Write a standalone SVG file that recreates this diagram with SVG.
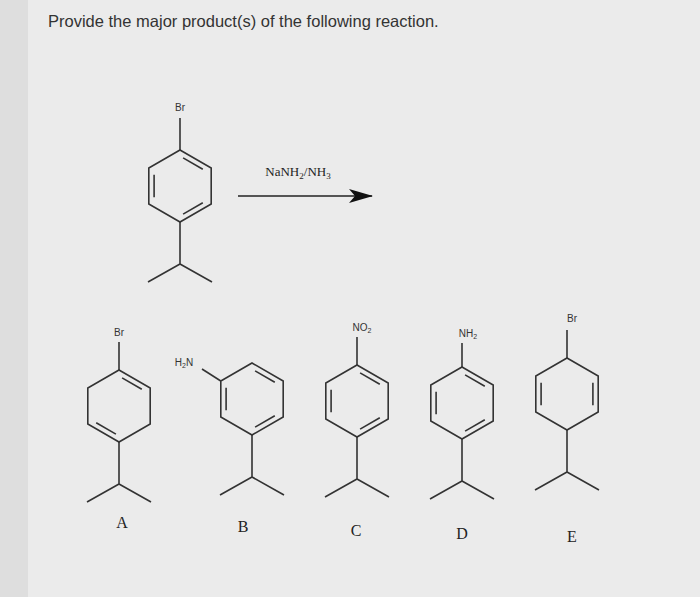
<svg xmlns="http://www.w3.org/2000/svg" width="700" height="597" viewBox="0 0 700 597">
<defs>
<style>
.b{stroke:#333;stroke-width:1.6;fill:none}
.s{font-family:"Liberation Sans",Arial,sans-serif;fill:#333}
.t{font-family:"Liberation Serif","Times New Roman",serif;fill:#222}
</style>
<path id="hex" d="M0,-36 L31.2,-18 L31.2,18 L0,36 L-31.2,18 L-31.2,-18 Z"/>
<path id="ipr" d="M0,36 L0,78 M0,78 L-32,96 M0,78 L32,96"/>
<path id="dTR" d="M3.1,-28.1 L22.8,-16.7"/>
<path id="dL" d="M-25.9,11.3 L-25.9,-11.3"/>
<path id="dR" d="M25.9,11.3 L25.9,-11.3"/>
<path id="dBR" d="M22.8,16.7 L3.1,28.1"/>
<path id="dBL" d="M-3.1,28.1 L-22.8,16.7"/>
<marker id="ah" markerWidth="24" markerHeight="14" refX="23" refY="7" orient="auto" markerUnits="userSpaceOnUse"><path d="M0,0 L24,7 L0,14 L6,7 Z" fill="#111"/></marker>
</defs>
<rect width="700" height="597" fill="#ebebeb"/>
<rect width="28" height="597" fill="#dedede"/>
<text class="s" x="48" y="27" font-size="16.5" fill="#222">Provide the major product(s) of the following reaction.</text>

<g id="start" class="b" transform="translate(180,186)">
<use href="#hex"/><use href="#ipr"/><use href="#dTR"/><use href="#dL"/><use href="#dBR"/>
<path d="M0,-36 L0,-68"/>
</g>
<text class="s" x="180" y="111" font-size="10" text-anchor="middle" stroke="none">Br</text>

<g id="connectors">
<line x1="238" y1="196" x2="372" y2="196" stroke="#222" stroke-width="1.4" marker-end="url(#ah)"/>
</g>
<text class="t" x="298" y="176" font-size="13" text-anchor="middle">NaNH<tspan font-size="9" dy="3">2</tspan><tspan dy="-3">/NH</tspan><tspan font-size="9" dy="3">3</tspan></text>

<g id="A" class="b" transform="translate(119,406)">
<use href="#hex"/><use href="#ipr"/><use href="#dTR"/><use href="#dBL"/>
<path d="M0,-36 L0,-64"/>
</g>
<text class="s" x="119" y="336" font-size="10" text-anchor="middle">Br</text>
<text class="t" x="122" y="528" font-size="16" text-anchor="middle">A</text>

<g id="B" class="b" transform="translate(252,399)">
<use href="#hex"/><use href="#ipr"/><use href="#dTR"/><use href="#dL"/><use href="#dBR"/>
<path d="M-31.2,-18 L-50,-30"/>
</g>
<text class="s" x="184" y="366" font-size="10" text-anchor="middle">H<tspan font-size="7" dy="2">2</tspan><tspan dy="-2">N</tspan></text>
<text class="t" x="243" y="532" font-size="16" text-anchor="middle">B</text>

<g id="C" class="b" transform="translate(357,401)">
<use href="#hex"/><use href="#ipr"/><use href="#dTR"/><use href="#dL"/><use href="#dBR"/>
<path d="M0,-36 L0,-64"/>
</g>
<text class="s" x="362" y="331" font-size="10" text-anchor="middle">NO<tspan font-size="7" dy="2">2</tspan></text>
<text class="t" x="356" y="536" font-size="16" text-anchor="middle">C</text>

<g id="D" class="b" transform="translate(462,403)">
<use href="#hex"/><use href="#ipr"/><use href="#dTR"/><use href="#dL"/><use href="#dBR"/>
<path d="M0,-36 L0,-60"/>
</g>
<text class="s" x="468" y="337" font-size="10" text-anchor="middle">NH<tspan font-size="7" dy="2">2</tspan></text>
<text class="t" x="462" y="539" font-size="16" text-anchor="middle">D</text>

<g id="E" class="b" transform="translate(567,394)">
<use href="#hex"/><use href="#ipr"/><use href="#dL"/><use href="#dR"/>
<path d="M0,-36 L0,-64"/>
</g>
<text class="s" x="572" y="322" font-size="10" text-anchor="middle">Br</text>
<text class="t" x="572" y="542" font-size="16" text-anchor="middle">E</text>
</svg>
